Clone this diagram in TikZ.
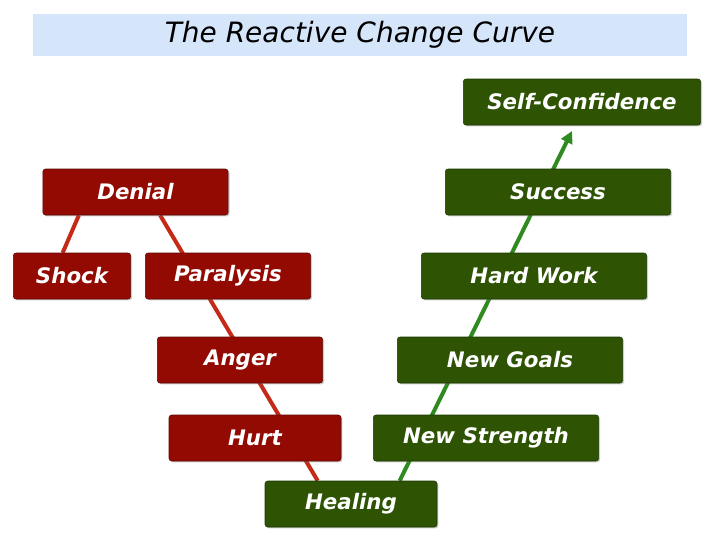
\documentclass[tikz,border=0pt]{standalone}
\usepackage{fontspec}
\setmainfont{DejaVu Sans}
\usetikzlibrary{arrows.meta,backgrounds,shadows}
\definecolor{titleblue}{HTML}{D5E5FA}
\definecolor{boxred}{HTML}{930A02}
\definecolor{edgered}{HTML}{5E0A05}
\definecolor{linered}{HTML}{C42A17}
\definecolor{boxgreen}{HTML}{2D5303}
\definecolor{edgegreen}{HTML}{1E3A02}
\definecolor{linegreen}{HTML}{2F8A1F}
\tikzset{
  stage/.style={shape=rectangle,rounded corners=2pt,text=white,inner sep=0pt,
    minimum height=34.5pt,font=\fontsize{16}{18}\selectfont\bfseries\itshape,
    drop shadow={shadow xshift=1pt,shadow yshift=-1pt,opacity=0.4}},
  low/.style={stage,fill=boxred,draw=edgered},
  high/.style={stage,fill=boxgreen,draw=edgegreen},
}
\begin{document}
\begin{tikzpicture}[x=0.75pt,y=-0.75pt]
\useasboundingbox (0,0) rectangle (720,540);
\node[fill=titleblue,minimum width=490pt,minimum height=31pt,font=\fontsize{21}{24}\selectfont\itshape] (title) at (360,35) {The Reactive Change Curve};

\node[low,minimum width=139pt] (denial) at (135.5,192) {Denial};
\node[low,minimum width=88pt] (shock) at (72,276) {Shock};
\node[low,minimum width=124pt] (paralysis) at (228,276) {Paralysis};
\node[low,minimum width=124pt] (anger) at (240,360) {Anger};
\node[low,minimum width=129pt] (hurt) at (255,438) {Hurt};
\node[high,minimum width=129pt] (healing) at (351,504) {Healing};
\node[high,minimum width=169pt] (strength) at (486,438) {New Strength};
\node[high,minimum width=169pt] (goals) at (510,360) {New Goals};
\node[high,minimum width=169pt] (work) at (534,276) {Hard Work};
\node[high,minimum width=169pt] (success) at (558,192) {Success};
\node[high,minimum width=178pt] (confidence) at (582,102) {Self-Confidence};
\coordinate (top) at (572,131);

\begin{scope}[on background layer]
  \draw[linered,line width=3pt] ([xshift=-42.5pt]denial.south) -- ([xshift=-7pt]shock.north);
  \draw[linered,line width=3pt] ([xshift=18.5pt]denial.south) -- ([xshift=-25pt]healing.north);
  \draw[linegreen,line width=3pt,-{Triangle[length=9pt,width=9pt]}] ([xshift=36.5pt]healing.north) -- (top);
\end{scope}
\end{tikzpicture}
\end{document}
